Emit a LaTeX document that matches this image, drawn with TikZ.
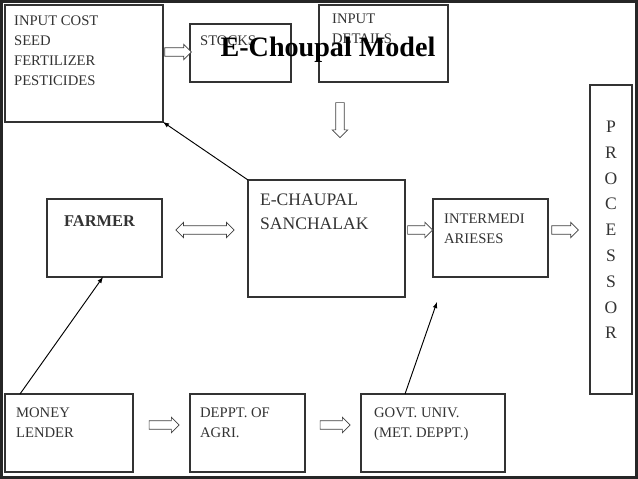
\documentclass[tikz,border=0pt]{standalone}
\usepackage{fontspec}
\setmainfont{Liberation Serif}
\usetikzlibrary{shapes.arrows}
\begin{document}
\begin{tikzpicture}[x=0.03cm,y=-0.03cm,
  bx/.style={draw=black!80,line width=0.9pt,fill=white},
  txt/.style={anchor=north west,align=left,font=\fontsize{12.5}{17}\selectfont,text=black!80},
  harrow/.style={single arrow,draw=black!75,fill=white,line width=0.6pt,single arrow head extend=3pt,inner xsep=0pt,inner ysep=3.3pt,anchor=center},
  ln/.style={line width=0.8pt,-latex}]
\useasboundingbox (0,0) rectangle (638,479);
\draw[line width=3pt,black!85] (1.5,1.5) rectangle (636.5,477.5);
\draw[bx] (5,5) rectangle (163,122);
\node[txt] (ict) at (10,12) {INPUT COST\\SEED\\FERTILIZER\\PESTICIDES};
\draw[bx] (190,24) rectangle (291,82);
\node[txt] (st) at (196,32) {STOCKS};
\draw[bx] (319,5) rectangle (448,82);
\node[txt] (inp) at (328,10) {INPUT\\DETAILS};
\draw[bx] (248,180) rectangle (405,297);
\node[txt,font=\fontsize{15}{20}\selectfont] (ec) at (256,190) {E-CHAUPAL\\SANCHALAK};
\draw[bx] (47,199) rectangle (162,277);
\node[txt,font=\bfseries\fontsize{14}{16}\selectfont] (fa) at (60,212) {FARMER};
\draw[bx] (433,199) rectangle (548,277);
\node[txt] (im) at (440,210) {INTERMEDI\\ARIESES};
\draw[bx] (590,85) rectangle (632,394);
\node[align=center,font=\fontsize{15}{22}\selectfont,text=black!80] (pr) at (611,230) {P\\R\\O\\C\\E\\S\\S\\O\\R};
\draw[bx] (5,394) rectangle (133,472);
\node[txt] (ml) at (12,404) {MONEY\\LENDER};
\draw[bx] (190,394) rectangle (305,472);
\node[txt] (dp) at (196,404) {DEPPT. OF\\AGRI.};
\draw[bx] (361,394) rectangle (505,472);
\node[txt] (gv) at (370,404) {GOVT. UNIV.\\(MET. DEPPT.)};
% hollow arrows
\node[harrow,minimum height=0.8cm] (a1) at (176,52) {};
\node[harrow,rotate=-90,minimum height=1.05cm] (a2) at (340,118) {};
\node[double arrow,draw=black!75,fill=white,line width=0.6pt,minimum height=1.75cm,double arrow head extend=3pt,inner xsep=0pt,inner ysep=3.3pt] (a3) at (205,230) {};
\node[harrow,minimum height=0.75cm] (a4) at (418,230) {};
\node[harrow,minimum height=0.8cm] (a5) at (563,230) {};
\node[harrow,minimum height=0.9cm] (a6) at (162,425) {};
\node[harrow,minimum height=0.9cm] (a7) at (333,425) {};
% lines
\coordinate (e1) at (248,180); \coordinate (i1) at (163,122);
\coordinate (m1) at (20,394); \coordinate (f1) at (103,277);
\coordinate (g1) at (405,394); \coordinate (t1) at (437,302);
\draw[ln] (e1) -- (i1);
\draw[ln] (m1) -- (f1);
\draw[ln] (g1) -- (t1);
\node[font=\bfseries\fontsize{24}{28}\selectfont] (title) at (328,50) {E-Choupal Model};
\end{tikzpicture}
\end{document}
